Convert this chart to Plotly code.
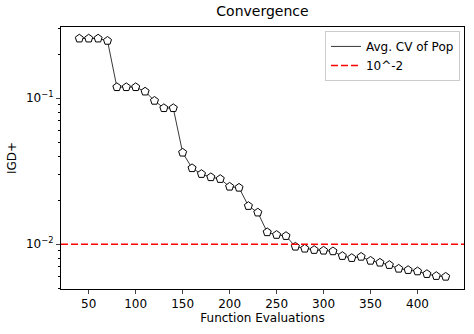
import plotly.graph_objects as go
import numpy as np

evals = list(range(40, 440, 10))
igd = [0.256, 0.256, 0.256, 0.247, 0.119, 0.119, 0.119, 0.111, 0.096, 0.0855,
       0.0855, 0.0424, 0.0332, 0.0303, 0.0288, 0.0280, 0.0248, 0.0244, 0.0183, 0.0165,
       0.0121, 0.0116, 0.0114, 0.00964, 0.00934, 0.00915, 0.00905, 0.00896, 0.00832, 0.00806,
       0.00822, 0.00772, 0.00749, 0.00722, 0.00681, 0.00667, 0.00653, 0.00626, 0.00607, 0.00600]
threshold = 0.01
series_name = "Avg. CV of Pop"
threshold_name = "10^-2"
x_ticks = [50, 100, 150, 200, 250, 300, 350, 400]
y_ticks = [0.01, 0.1]
y_ticktext = ["10<sup>\u22122</sup>", "10<sup>\u22121</sup>"]

font = "DejaVu Sans"

fig = go.Figure()
fig.add_trace(go.Scatter(x=evals, y=igd, mode="lines", name=series_name,
                         line=dict(color="#222222", width=0.9)))
fig.add_trace(go.Scatter(x=evals, y=igd, mode="markers", showlegend=False,
                         marker=dict(symbol="pentagon", size=8.5, color="white",
                                     line=dict(color="black", width=1))))
fig.add_shape(type="line", xref="x domain", yref="y", x0=0, x1=1,
              y0=threshold, y1=threshold,
              line=dict(color="red", width=1.6, dash="7px,3px"),
              showlegend=True, name=threshold_name)

span = max(evals) - min(evals)
xr = [min(evals) - 0.05 * span, max(evals) + 0.05 * span]
yr = [-2.306, -0.513]

minor_vals = [m * 10.0 ** e for e in (-3, -2, -1) for m in range(2, 10)]

fig.update_layout(
    width=474, height=334,
    margin=dict(l=61, r=10, t=27, b=45),
    paper_bgcolor="white", plot_bgcolor="white",
    font=dict(family=font, size=12, color="black"),
    title=dict(text="Convergence", x=0.5, xref="paper", xanchor="center",
               y=1 - 6 / 334, yanchor="top", font=dict(size=14, family=font)),
    showlegend=True,
    legend=dict(x=0.99, y=0.985, xanchor="right", yanchor="top",
                bgcolor="rgba(255,255,255,0.8)", bordercolor="#cccccc", borderwidth=1,
                font=dict(size=12, family=font), tracegroupgap=0,
                itemwidth=30),
    xaxis=dict(range=xr, tickvals=x_ticks, ticks="outside", ticklen=4, tickwidth=1,
               showline=True, linecolor="black", linewidth=1, mirror=True,
               showgrid=False, zeroline=False, tickfont=dict(size=12),
               title=dict(text="Function Evaluations", standoff=3, font=dict(size=12))),
    yaxis=dict(type="log", range=yr, tickvals=y_ticks, ticktext=y_ticktext,
               ticks="outside", ticklen=4, tickwidth=1, tickfont=dict(size=12),
               showline=True, linecolor="black", linewidth=1, mirror=True,
               showgrid=False, zeroline=False,
               minor=dict(tickvals=minor_vals, ticks="outside", ticklen=2, tickwidth=0.8,
                          tickcolor="black", showgrid=False),
               title=dict(text="IGD+", standoff=6, font=dict(size=12))),
)

fig.write_html("out.html")
